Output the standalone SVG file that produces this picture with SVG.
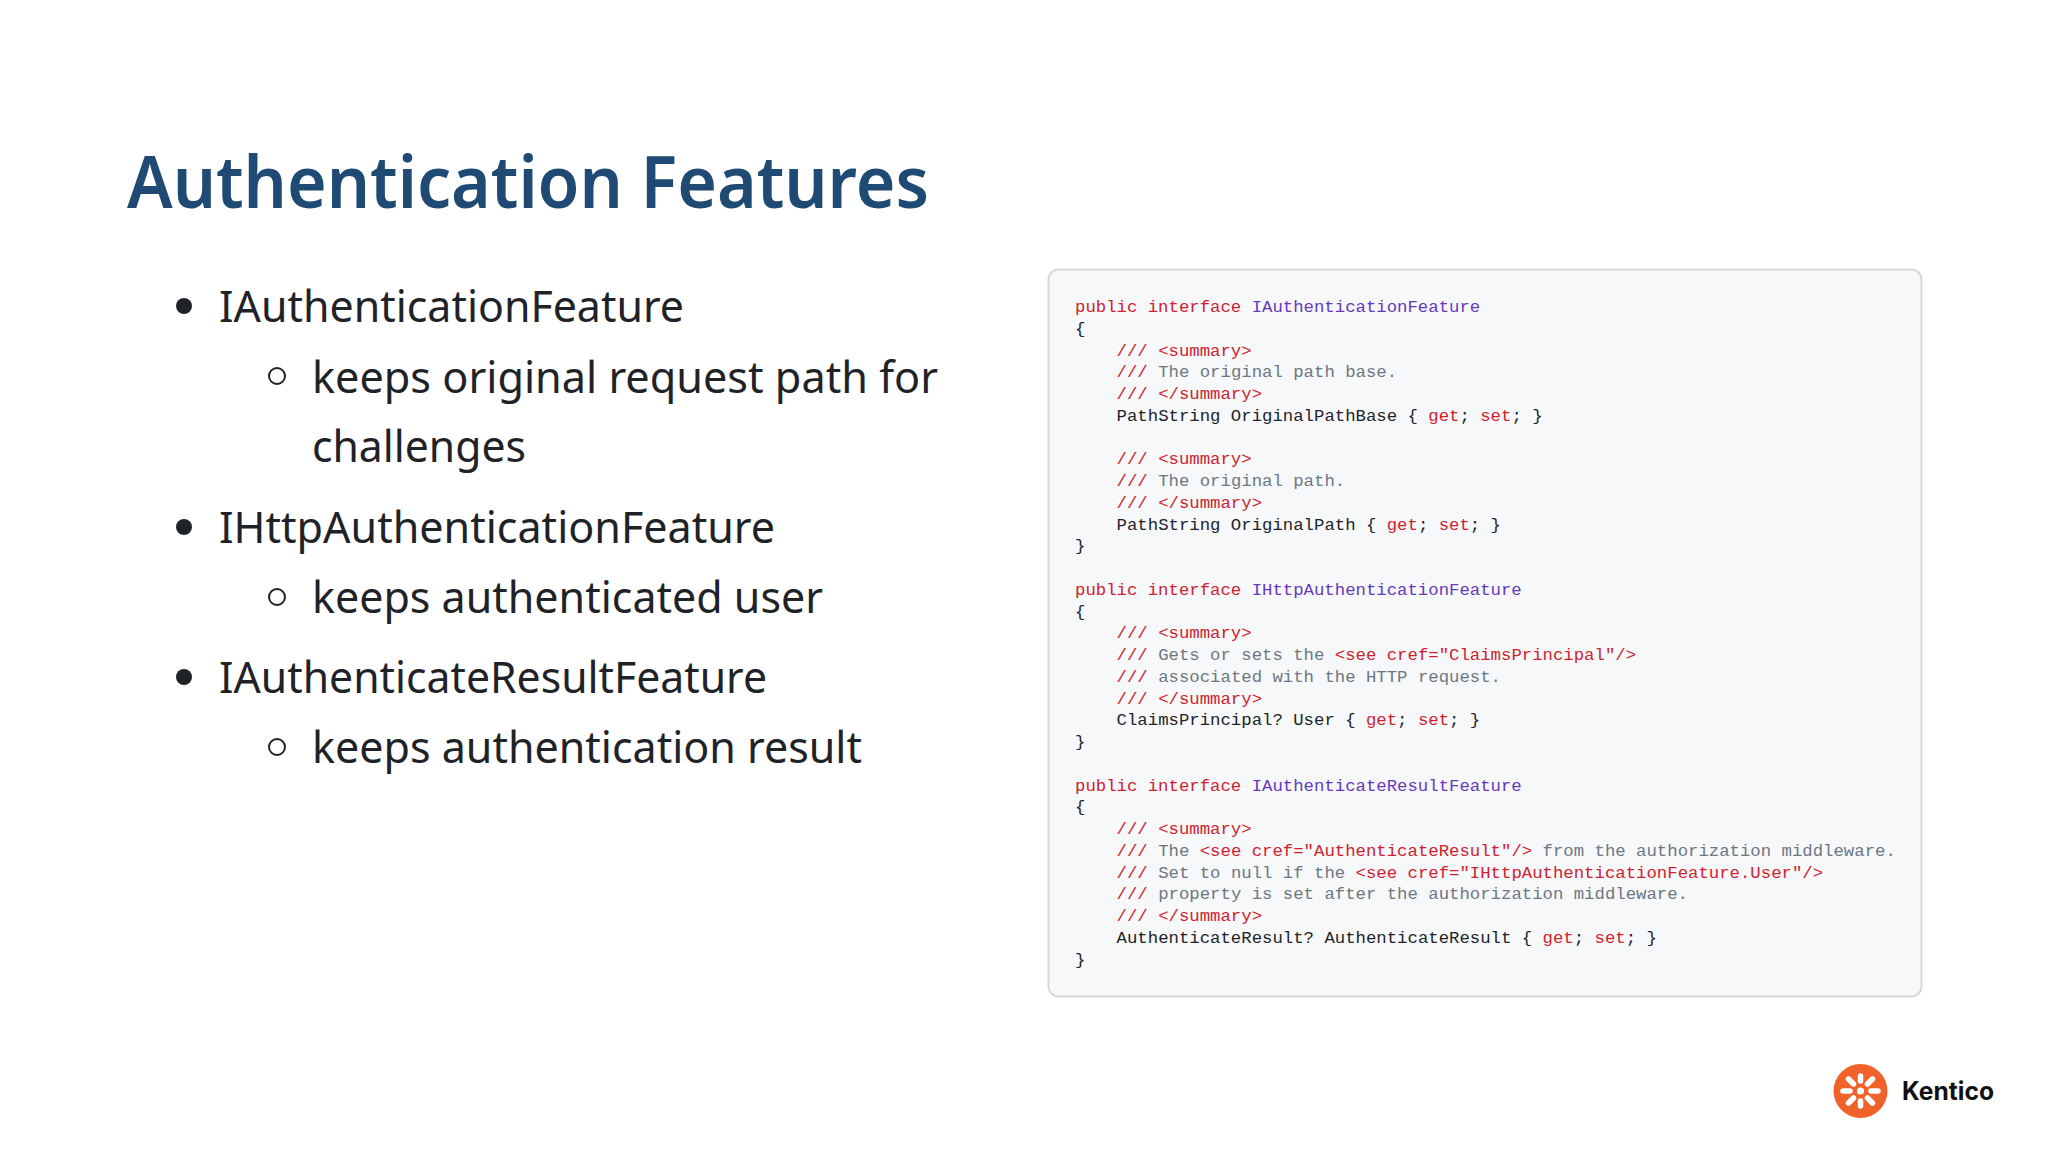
<svg xmlns="http://www.w3.org/2000/svg" width="2048" height="1152" viewBox="0 0 2048 1152">
<style>
.t{font-family:"Noto Sans","Open Sans",sans-serif;fill:#1f2328}
.h{font-family:"Noto Sans","Open Sans",sans-serif;font-size:72px;font-weight:600;fill:#1f4a73}
.b{font-size:44px}
.c{font-family:"Liberation Mono",monospace;font-size:17.32px;fill:#1f2328;white-space:pre}
.k{fill:#cf222e}.n{fill:#6639ba}.g{fill:#6e7781}
.p{stroke:#fff;stroke-width:5.5;stroke-linecap:round;fill:none}
</style>
<rect width="2048" height="1152" fill="#fff"/>
<g id="title"><text class="h" x="127" y="208" textLength="802" lengthAdjust="spacingAndGlyphs">Authentication Features</text></g>
<g id="bullets">
<circle cx="184" cy="306" r="8" fill="#1f2328"/>
<circle cx="277" cy="376" r="8" fill="none" stroke="#1f2328" stroke-width="2"/>
<circle cx="184" cy="527" r="8" fill="#1f2328"/>
<circle cx="277" cy="597" r="8" fill="none" stroke="#1f2328" stroke-width="2"/>
<circle cx="184" cy="677" r="8" fill="#1f2328"/>
<circle cx="277" cy="747" r="8" fill="none" stroke="#1f2328" stroke-width="2"/>
<text class="t b" x="219" y="322" textLength="465" lengthAdjust="spacingAndGlyphs">IAuthenticationFeature</text>
<text class="t b" x="312" y="392.500" textLength="626" lengthAdjust="spacingAndGlyphs">keeps original request path for</text>
<text class="t b" x="312" y="461.500" textLength="214" lengthAdjust="spacingAndGlyphs">challenges</text>
<text class="t b" x="219" y="543" textLength="556" lengthAdjust="spacingAndGlyphs">IHttpAuthenticationFeature</text>
<text class="t b" x="312" y="613" textLength="511" lengthAdjust="spacingAndGlyphs">keeps authenticated user</text>
<text class="t b" x="219" y="693" textLength="548" lengthAdjust="spacingAndGlyphs">IAuthenticateResultFeature</text>
<text class="t b" x="312" y="763" textLength="550" lengthAdjust="spacingAndGlyphs">keeps authentication result</text>
</g>
<g id="code-card">
<rect x="1048.5" y="269.5" width="873" height="727" rx="10" fill="#f6f8fa" stroke="#d5d9de" stroke-width="2"/>
<text class="c" x="1075" y="312"><tspan class="k">public interface</tspan> <tspan class="n">IAuthenticationFeature</tspan></text>
<text class="c" x="1075" y="333.75">{</text>
<text class="c" x="1116.6" y="355.5"><tspan class="k">/// &lt;summary&gt;</tspan></text>
<text class="c" x="1116.6" y="377.25"><tspan class="k">///</tspan> <tspan class="g">The original path base.</tspan></text>
<text class="c" x="1116.6" y="399"><tspan class="k">/// &lt;/summary&gt;</tspan></text>
<text class="c" x="1116.6" y="420.75">PathString OriginalPathBase { <tspan class="k">get</tspan>; <tspan class="k">set</tspan>; }</text>
<text class="c" x="1116.6" y="464.25"><tspan class="k">/// &lt;summary&gt;</tspan></text>
<text class="c" x="1116.6" y="486"><tspan class="k">///</tspan> <tspan class="g">The original path.</tspan></text>
<text class="c" x="1116.6" y="507.75"><tspan class="k">/// &lt;/summary&gt;</tspan></text>
<text class="c" x="1116.6" y="529.5">PathString OriginalPath { <tspan class="k">get</tspan>; <tspan class="k">set</tspan>; }</text>
<text class="c" x="1075" y="551.25">}</text>
<text class="c" x="1075" y="594.75"><tspan class="k">public interface</tspan> <tspan class="n">IHttpAuthenticationFeature</tspan></text>
<text class="c" x="1075" y="616.5">{</text>
<text class="c" x="1116.6" y="638.25"><tspan class="k">/// &lt;summary&gt;</tspan></text>
<text class="c" x="1116.6" y="660"><tspan class="k">///</tspan> <tspan class="g">Gets or sets the</tspan> <tspan class="k">&lt;see cref="ClaimsPrincipal"/&gt;</tspan></text>
<text class="c" x="1116.6" y="681.75"><tspan class="k">///</tspan> <tspan class="g">associated with the HTTP request.</tspan></text>
<text class="c" x="1116.6" y="703.5"><tspan class="k">/// &lt;/summary&gt;</tspan></text>
<text class="c" x="1116.6" y="725.25">ClaimsPrincipal? User { <tspan class="k">get</tspan>; <tspan class="k">set</tspan>; }</text>
<text class="c" x="1075" y="747">}</text>
<text class="c" x="1075" y="790.5"><tspan class="k">public interface</tspan> <tspan class="n">IAuthenticateResultFeature</tspan></text>
<text class="c" x="1075" y="812.25">{</text>
<text class="c" x="1116.6" y="834"><tspan class="k">/// &lt;summary&gt;</tspan></text>
<text class="c" x="1116.6" y="855.75"><tspan class="k">///</tspan> <tspan class="g">The</tspan> <tspan class="k">&lt;see cref="AuthenticateResult"/&gt;</tspan> <tspan class="g">from the authorization middleware.</tspan></text>
<text class="c" x="1116.6" y="877.5"><tspan class="k">///</tspan> <tspan class="g">Set to null if the</tspan> <tspan class="k">&lt;see cref="IHttpAuthenticationFeature.User"/&gt;</tspan></text>
<text class="c" x="1116.6" y="899.25"><tspan class="k">///</tspan> <tspan class="g">property is set after the authorization middleware.</tspan></text>
<text class="c" x="1116.6" y="921"><tspan class="k">/// &lt;/summary&gt;</tspan></text>
<text class="c" x="1116.6" y="942.75">AuthenticateResult? AuthenticateResult { <tspan class="k">get</tspan>; <tspan class="k">set</tspan>; }</text>
<text class="c" x="1075" y="964.5">}</text>
</g>
<g id="logo">
<circle cx="1860.500" cy="1091" r="27" fill="#f0622a"/>
<circle cx="1860.500" cy="1091" r="3.6" fill="#fff"/>
<path class="p" d="M1860.500 1081V1076M1860.500 1101v5M1850 1091h-7M1871 1091h7M1853.500 1084l-5-5M1867.500 1084l5-5M1853.500 1098l-5 5M1867.500 1098l5 5"/>
<text x="1902" y="1099.500" font-family="Inter,sans-serif" font-weight="700" font-size="25px" fill="#111" textLength="92" lengthAdjust="spacingAndGlyphs">Kentico</text>
</g>
</svg>
